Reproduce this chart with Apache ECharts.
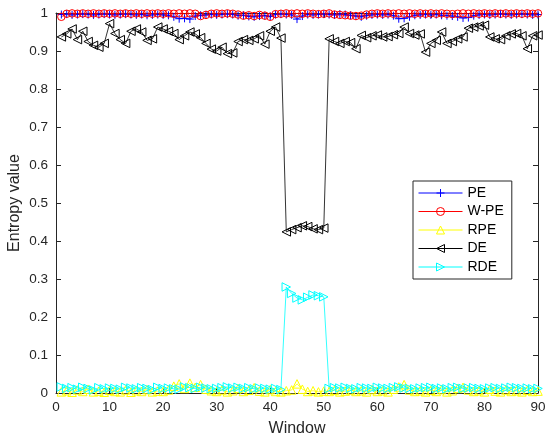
<!DOCTYPE html>
<html>
<head>
<meta charset="utf-8">
<script src="https://cdn.jsdelivr.net/npm/echarts@6/dist/echarts.min.js"></script>
<style>html,body{margin:0;padding:0;background:#fff}#c{width:550px;height:446px}</style>
</head>
<body>
<div id="c"></div>
<script>
const seriesNames = ['PE', 'W-PE', 'RPE', 'DE', 'RDE'];
const xTicks = [0, 10, 20, 30, 40, 50, 60, 70, 80, 90];
const yTicks = [0, 0.1, 0.2, 0.3, 0.4, 0.5, 0.6, 0.7, 0.8, 0.9, 1];

const PE = [
0.996,0.997,0.995,0.996,0.997,0.996,0.995,0.996,0.997,0.996,
0.995,0.996,0.997,0.996,0.995,0.996,0.994,0.995,0.996,0.995,
0.994,0.990,0.985,0.986,0.984,0.992,0.994,0.995,0.996,0.995,
0.996,0.997,0.996,0.993,0.994,0.991,0.990,0.992,0.993,0.991,
0.996,0.997,0.996,0.995,0.984,0.992,0.996,0.995,0.996,0.997,
0.996,0.995,0.997,0.996,0.994,0.992,0.990,0.993,0.995,0.996,
0.995,0.996,0.993,0.985,0.986,0.990,0.994,0.995,0.996,0.995,
0.996,0.994,0.993,0.992,0.990,0.987,0.988,0.993,0.995,0.996,
0.995,0.996,0.997,0.996,0.995,0.996,0.997,0.996,0.995,0.996];

const WPE = [
0.990,0.998,0.999,0.998,0.999,0.998,0.999,0.998,0.999,0.998,
0.999,0.998,0.999,0.998,0.999,0.998,0.999,0.998,0.999,0.998,
0.999,0.998,0.999,0.998,0.999,0.998,0.992,0.995,0.998,0.999,
0.998,0.999,0.998,0.996,0.993,0.994,0.992,0.995,0.993,0.990,
0.997,0.998,0.999,0.998,0.999,0.998,0.999,0.998,0.997,0.998,
0.999,0.996,0.995,0.994,0.993,0.992,0.993,0.996,0.998,0.999,
0.998,0.999,0.998,0.999,0.998,0.999,0.998,0.999,0.998,0.999,
0.998,0.999,0.998,0.997,0.998,0.999,0.998,0.999,0.998,0.999,
0.998,0.999,0.998,0.999,0.998,0.999,0.998,0.999,0.998,0.999];

const RPE = [
0.003,0.006,0.002,0.008,0.004,0.010,0.003,0.005,0.002,0.007,
0.004,0.003,0.008,0.002,0.006,0.004,0.009,0.003,0.005,0.004,
0.008,0.018,0.024,0.012,0.026,0.015,0.022,0.010,0.006,0.004,
0.008,0.003,0.006,0.012,0.004,0.007,0.014,0.005,0.003,0.009,
0.004,0.003,0.006,0.008,0.024,0.010,0.004,0.006,0.003,0.005,
0.004,0.007,0.003,0.005,0.008,0.004,0.006,0.003,0.009,0.004,
0.006,0.003,0.010,0.016,0.022,0.008,0.004,0.006,0.003,0.007,
0.004,0.009,0.003,0.006,0.012,0.015,0.008,0.004,0.006,0.003,
0.010,0.005,0.003,0.008,0.004,0.006,0.003,0.007,0.004,0.005];

const DE = [
0.937,0.945,0.958,0.930,0.952,0.925,0.915,0.910,0.920,0.972,
0.946,0.930,0.920,0.952,0.958,0.950,0.928,0.932,0.963,0.958,
0.952,0.946,0.930,0.940,0.950,0.945,0.935,0.920,0.905,0.900,
0.910,0.893,0.895,0.925,0.930,0.928,0.932,0.940,0.918,0.952,
0.963,0.934,0.424,0.430,0.435,0.440,0.438,0.432,0.430,0.434,
0.932,0.925,0.920,0.925,0.922,0.906,0.941,0.935,0.940,0.942,
0.937,0.938,0.943,0.946,0.963,0.946,0.942,0.945,0.897,0.920,
0.928,0.950,0.920,0.925,0.932,0.937,0.960,0.963,0.966,0.968,
0.937,0.932,0.930,0.940,0.945,0.946,0.940,0.906,0.940,0.942];

const RDE = [
0.016,0.012,0.014,0.010,0.015,0.012,0.008,0.014,0.011,0.013,
0.012,0.010,0.015,0.013,0.011,0.014,0.012,0.009,0.015,0.012,
0.013,0.011,0.010,0.016,0.014,0.012,0.015,0.013,0.011,0.012,
0.014,0.016,0.013,0.015,0.012,0.014,0.011,0.013,0.012,0.010,
0.012,0.009,0.279,0.262,0.250,0.245,0.252,0.258,0.256,0.253,
0.012,0.014,0.013,0.015,0.012,0.011,0.014,0.013,0.012,0.015,
0.013,0.012,0.014,0.016,0.013,0.012,0.011,0.013,0.014,0.015,
0.012,0.013,0.011,0.014,0.015,0.012,0.013,0.014,0.012,0.011,
0.013,0.014,0.012,0.013,0.015,0.014,0.012,0.013,0.011,0.012];

const values = [PE, WPE, RPE, DE, RDE];
const colors = ['#0000ff', '#ff0000', '#ffff00', '#000000', '#00ffff'];
const symbols = [
  'path://M5,0L5,10M0,5L10,5',
  'circle',
  'path://M5,0L10,10L0,10Z',
  'path://M0,5L10,0L10,10Z',
  'path://M10,5L0,0L0,10Z'
];
const sizes = [8, 7.5, 8.5, 8.5, 8.5];
const axisColor = '#262626';
const font = 'Liberation Sans, Arial, Helvetica, sans-serif';

const series = seriesNames.map((name, k) => ({
  name: name,
  type: 'line',
  data: values[k].map((v, i) => [i + 1, v]),
  symbol: symbols[k],
  symbolSize: sizes[k],
  showAllSymbol: true,
  lineStyle: { color: colors[k], width: 0.8 },
  itemStyle: { color: 'none', borderColor: colors[k], borderWidth: 1 },
  emphasis: { disabled: true },
  animation: false
}));

const chart = echarts.init(document.getElementById('c'));
chart.setOption({
  animation: false,
  backgroundColor: '#fff',
  grid: { left: 56, right: 12, top: 13, bottom: 53, containLabel: false, outerBoundsMode: 'none' },
  legend: {
    data: seriesNames,
    orient: 'vertical',
    left: 413, top: 181,
    padding: [5, 8, 5, 5],
    itemWidth: 44, itemHeight: 10, itemGap: 4.5,
    backgroundColor: '#fff',
    borderColor: axisColor, borderWidth: 1, borderRadius: 0,
    lineStyle: { width: 1 },
    itemStyle: { borderWidth: 1 },
    textStyle: { fontFamily: font, fontSize: 14, color: '#000' }
  },
  xAxis: [{
    type: 'value', min: xTicks[0], max: xTicks[xTicks.length - 1], interval: 10,
    name: 'Window', nameLocation: 'middle', nameGap: 28, nameMoveOverlap: false,
    nameTextStyle: { fontFamily: font, fontSize: 16, color: axisColor },
    axisLine: { show: true, onZero: false, lineStyle: { color: axisColor, width: 1 } },
    axisTick: { show: true, inside: true, length: 5, lineStyle: { color: axisColor } },
    axisLabel: { fontFamily: font, fontSize: 13.5, color: axisColor, margin: 7 },
    splitLine: { show: false }
  }, {
    type: 'value', position: 'top', min: xTicks[0], max: xTicks[xTicks.length - 1], interval: 10,
    axisLine: { show: true, onZero: false, lineStyle: { color: axisColor, width: 1 } },
    axisTick: { show: true, inside: true, length: 5, lineStyle: { color: axisColor } },
    axisLabel: { show: false }, splitLine: { show: false }
  }],
  yAxis: [{
    type: 'value', min: yTicks[0], max: yTicks[yTicks.length - 1], interval: 0.1,
    name: 'Entropy value', nameLocation: 'middle', nameGap: 33, nameMoveOverlap: false,
    nameTextStyle: { fontFamily: font, fontSize: 16, color: axisColor },
    axisLine: { show: true, onZero: false, lineStyle: { color: axisColor, width: 1 } },
    axisTick: { show: true, inside: true, length: 5, lineStyle: { color: axisColor } },
    axisLabel: { fontFamily: font, fontSize: 13.5, color: axisColor, margin: 8 },
    splitLine: { show: false }
  }, {
    type: 'value', position: 'right', min: yTicks[0], max: yTicks[yTicks.length - 1], interval: 0.1,
    axisLine: { show: true, onZero: false, lineStyle: { color: axisColor, width: 1 } },
    axisTick: { show: true, inside: true, length: 5, lineStyle: { color: axisColor } },
    axisLabel: { show: false }, splitLine: { show: false }
  }],
  series: series
});
</script>
</body>
</html>
